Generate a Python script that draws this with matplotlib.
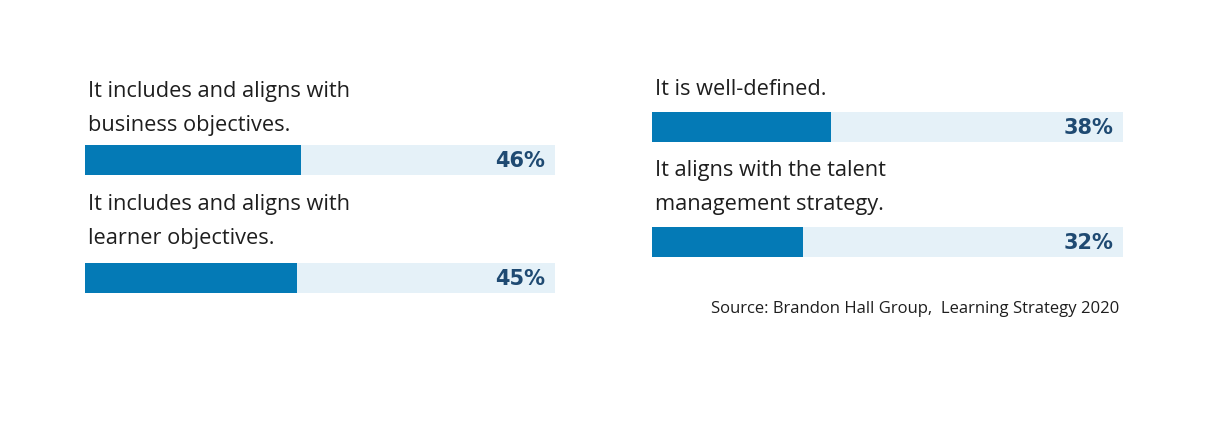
import matplotlib.pyplot as plt

plt.rcParams['font.family'] = ['Open Sans', 'DejaVu Sans']

left_labels = ["It includes and aligns with\nbusiness objectives.",
               "It includes and aligns with\nlearner objectives."]
left_values = [46, 45]
right_labels = ["It is well-defined.",
                "It aligns with the talent\nmanagement strategy."]
right_values = [38, 32]

W, H = 1223, 422
fig = plt.figure(figsize=(W / 100, H / 100), dpi=100)

dark = '#047AB6'
light = '#E5F1F8'
pct_color = '#1F4A72'


def panel(x0, x1, y_first, step, labels, values, gaps):
    # axes spans full height; y index -> pixel y = y_first + step * i
    ax = fig.add_axes([x0 / W, 0, (x1 - x0) / W, 1])
    ax.set_xlim(0, 100)
    ax.set_ylim((H - y_first) / step, -y_first / step)
    ax.axis('off')
    h = 30 / step
    ys = list(range(len(values)))
    ax.barh(ys, [100] * len(values), height=h, color=light, left=0)
    ax.barh(ys, values, height=h, color=dark, left=0)
    for y, v, lab, g in zip(ys, values, labels, gaps):
        ax.annotate(f"{v}%", xy=(100, y), xytext=(-10, -1), textcoords='offset pixels',
                    ha='right', va='center', fontsize=15, fontweight='bold',
                    color=pct_color, family='DejaVu Sans')
        ax.annotate(lab, xy=(0, y - h / 2), xytext=(3, g), textcoords='offset pixels',
                    ha='left', va='bottom', fontsize=15.7, color='#1E1E1E',
                    linespacing=1.8)
    return ax


panel(85, 555, 160, 118, left_labels, left_values, [9, 14])
panel(652, 1123, 127, 115, right_labels, right_values, [12, 12])

fig.text(1119 / W, 1 - 309 / H, "Source: Brandon Hall Group,  Learning Strategy 2020",
         ha='right', va='center', fontsize=12, color='#1E1E1E')

fig.savefig('out.png', dpi=100, facecolor='white')
